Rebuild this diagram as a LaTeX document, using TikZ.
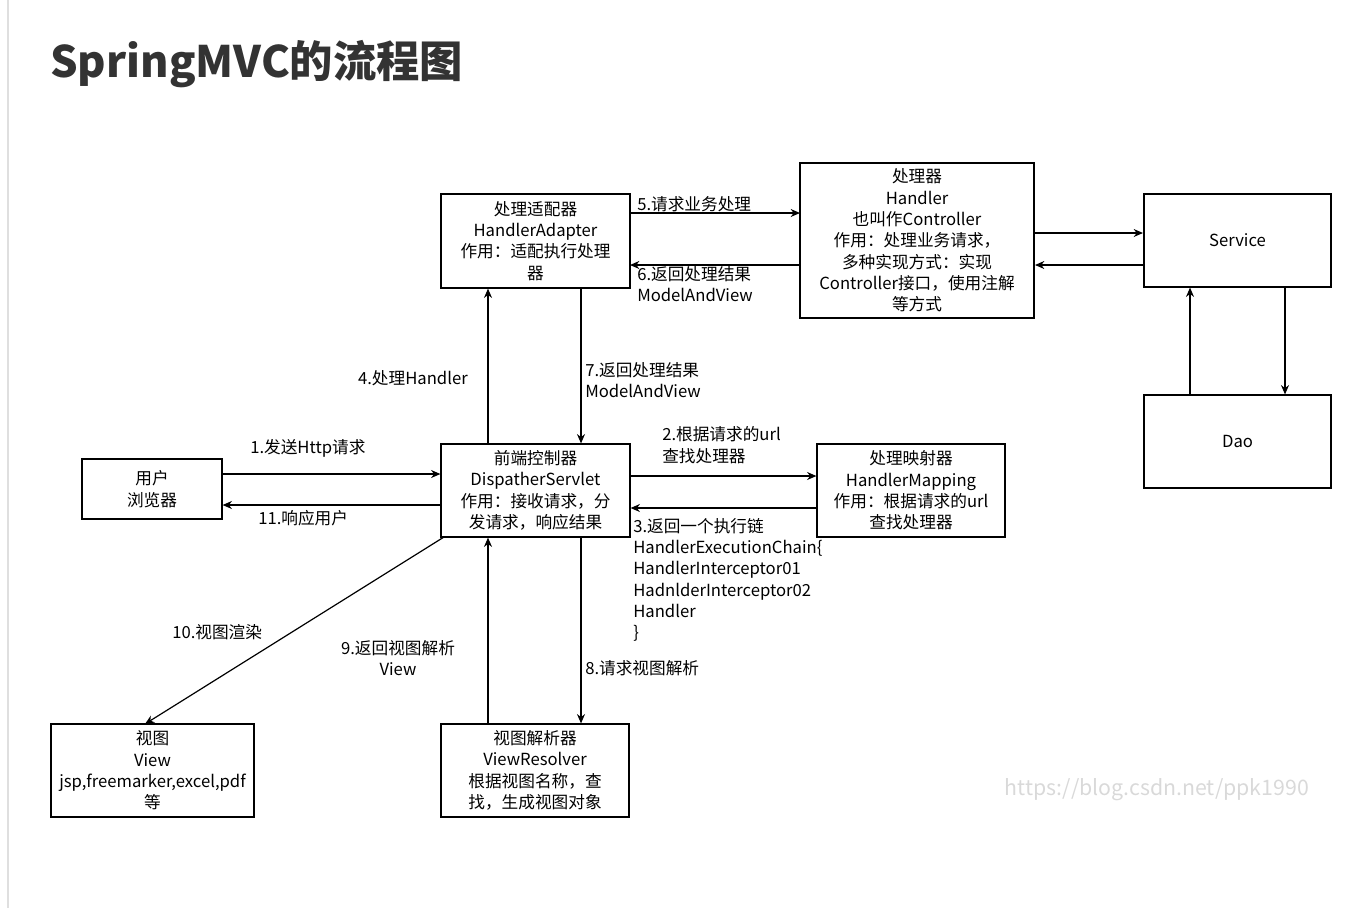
\documentclass[tikz,border=0pt]{standalone}
\usepackage{fontspec}
\setmainfont{Noto Sans CJK SC}
\usetikzlibrary{arrows.meta}
\begin{document}
\begin{tikzpicture}[x=0.75pt,y=-0.75pt,
 box/.style={draw,line width=0.9pt,inner sep=0pt,font=\fontsize{12.5}{16}\selectfont,align=center},
 arr/.style={-{Stealth[length=7pt,width=6pt]},line width=0.9pt},
 lab/.style={font=\fontsize{12.5}{16}\selectfont,align=left,inner sep=0pt}]
\useasboundingbox (0,0) rectangle (1361,908);
\draw[gray!25,line width=1pt] (8,0)--(8,908);
\node[anchor=west,font=\fontsize{32.5}{38}\selectfont\bfseries,text=black!80,inner sep=0pt] (title) at (50,64) {SpringMVC的流程图};
\node[box,minimum width=189*0.75pt,minimum height=94*0.75pt] (ha) at (535.5,241) {处理适配器\\HandlerAdapter\\作用：适配执行处理\\器};
\node[box,minimum width=234*0.75pt,minimum height=155*0.75pt] (h) at (917,240.5) {处理器\\Handler\\也叫作Controller\\作用：处理业务请求，\\多种实现方式：实现\\Controller接口，使用注解\\等方式};
\node[box,minimum width=187*0.75pt,minimum height=93*0.75pt] (svc) at (1237.5,240.5) {Service};
\node[box,minimum width=187*0.75pt,minimum height=93*0.75pt] (dao) at (1237.5,441.5) {Dao};
\node[box,minimum width=140*0.75pt,minimum height=60*0.75pt] (u) at (152,489) {用户\\浏览器};
\node[box,minimum width=189*0.75pt,minimum height=93*0.75pt] (ds) at (535.5,490.5) {前端控制器\\DispatherServlet\\作用：接收请求，分\\发请求，响应结果};
\node[box,minimum width=188*0.75pt,minimum height=93*0.75pt] (hm) at (911,490.5) {处理映射器\\HandlerMapping\\作用：根据请求的url\\查找处理器};
\node[box,minimum width=203*0.75pt,minimum height=93*0.75pt] (v) at (152.5,770.5) {视图\\View\\jsp,freemarker,excel,pdf\\等};
\node[box,minimum width=188*0.75pt,minimum height=93*0.75pt] (vr) at (535,770.5) {视图解析器\\ViewResolver\\根据视图名称，查\\找，生成视图对象};
\coordinate (a1) at (630,213); \coordinate (a2) at (800,213);
\draw[arr] (a1)--(a2);
\node[lab,anchor=south west] (l5) at (637,212) {5.请求业务处理};
\coordinate (b1) at (800,265); \coordinate (b2) at (630,265);
\draw[arr] (b1)--(b2);
\node[lab,anchor=north west] (l6) at (637,266) {6.返回处理结果\\ModelAndView};
\coordinate (c1) at (1034,233); \coordinate (c2) at (1143,233);
\draw[arr] (c1)--(c2);
\coordinate (d1) at (1143,265); \coordinate (d2) at (1035,265);
\draw[arr] (d1)--(d2);
\draw[arr] (dao.north -| 1190,0)--(svc.south -| 1190,0);
\draw[arr] (svc.south -| 1285,0)--(dao.north -| 1285,0);
\draw[arr] (ds.north -| 488,0)--(ha.south -| 488,0);
\node[lab,anchor=east] (l4) at (468,378) {4.处理Handler};
\draw[arr] (ha.south -| 581,0)--(ds.north -| 581,0);
\node[lab,anchor=west] (l7) at (585,380) {7.返回处理结果\\ModelAndView};
\draw[arr] (u.east |- 0,474)--(ds.west |- 0,474);
\node[lab,anchor=west] (l1) at (250,448) {1.发送Http请求};
\draw[arr] (ds.west |- 0,505)--(u.east |- 0,505);
\node[lab,anchor=west] (l11) at (258,518) {11.响应用户};
\draw[arr] (ds.east |- 0,476)--(hm.west |- 0,476);
\node[lab,anchor=west] (l2) at (662,445) {2.根据请求的url\\查找处理器};
\draw[arr] (hm.west |- 0,508)--(ds.east |- 0,508);
\node[lab,anchor=north west] (l3) at (633,518) {3.返回一个执行链\\HandlerExecutionChain\{\\HandlerInterceptor01\\HadnlderInterceptor02\\Handler\\\}};
\coordinate (e1) at (444,537); \coordinate (e2) at (145,724);
\draw[arr] (e1)--(e2);
\node[lab,anchor=west] (l10) at (172,632) {10.视图渲染};
\draw[arr] (vr.north -| 488,0)--(ds.south -| 488,0);
\node[lab,align=center] (l9) at (398,658) {9.返回视图解析\\View};
\draw[arr] (ds.south -| 581,0)--(vr.north -| 581,0);
\node[lab,anchor=west] (l8) at (585,668) {8.请求视图解析};
\node[font=\fontsize{16}{18}\selectfont,text=gray!30,inner sep=0pt] (wm) at (1157,790) {https://blog.csdn.net/ppk1990};
\end{tikzpicture}
\end{document}
